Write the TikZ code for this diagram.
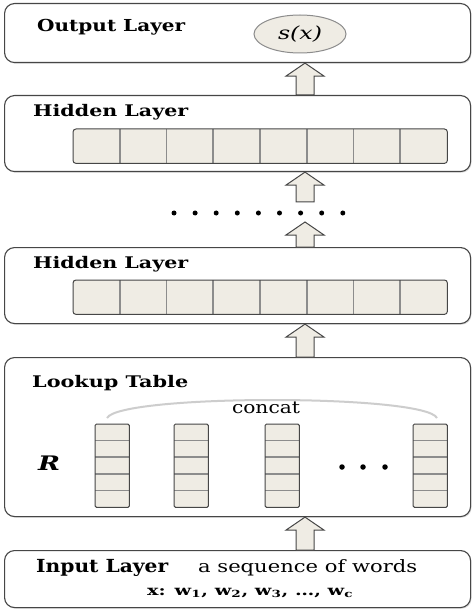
\documentclass[tikz,border=0pt]{standalone}
\usepackage{graphicx}
\usepackage{fontspec}
\setmainfont{DejaVu Serif}
\usetikzlibrary{calc,shapes.geometric,shadows}
\definecolor{cellfill}{RGB}{239,236,228}
\definecolor{edgec}{RGB}{70,70,70}
\definecolor{divc}{RGB}{140,140,140}
\definecolor{arcc}{RGB}{205,205,205}
\newcommand{\fitw}[2]{\resizebox{#1}{\height}{#2}}
\newcommand{\blockup}[2]{%
  \draw[blk] let \p1=(#1), \p2=(#2) in
    (\x1-9pt,\y1) -- (\x1-9pt,\y2-13pt) -- (\x1-19pt,\y2-13pt) -- (\x1,\y2)
    -- (\x1+19pt,\y2-13pt) -- (\x1+9pt,\y2-13pt) -- (\x1+9pt,\y1) -- cycle;}
\begin{document}
\begin{tikzpicture}[x=1pt,y=-1pt,
  layer/.style={draw=edgec, line width=1.1pt, rounded corners=10pt, anchor=north west,
    inner sep=0pt, minimum width=466pt, fill=white,
    drop shadow={opacity=0.25,shadow xshift=1pt,shadow yshift=-1.2pt}},
  ttl/.style={anchor=base west, inner sep=0pt, font=\bfseries},
  plain/.style={inner sep=0pt},
  barbox/.style={anchor=north west, inner sep=0pt, minimum width=374pt, minimum height=34pt, fill=cellfill},
  colbox/.style={anchor=north west, inner sep=0pt, minimum width=34pt, minimum height=83pt, fill=cellfill},
  divline/.style={draw=divc, line width=1.6pt},
  outline/.style={draw=edgec, line width=1pt},
  blk/.style={fill=cellfill, draw=edgec, line width=1pt, line join=miter},
  dotc/.style={circle, fill=black, inner sep=0pt, minimum size=5pt}
]
\useasboundingbox (0,0) rectangle (474,612);
\coordinate (ax) at (305,0);

% ---------- layers ----------
\node[layer, minimum height=59pt] (out) at (4,3) {};
\node[layer, minimum height=76pt] (hid1) at (4,95) {};
\node[layer, minimum height=76pt] (hid2) at (4,247) {};
\node[layer, minimum height=159pt] (look) at (4,357) {};
\node[layer, minimum height=57pt] (inp) at (4,550) {};

% ---------- output layer ----------
\node[ttl] (outlbl) at (37,32) {\fontsize{16.5}{19}\selectfont\fitw{148pt}{Output Layer}};
\node[ellipse, draw=divc, line width=1pt, fill=cellfill, minimum width=92pt, minimum height=38pt, inner sep=0pt] (sx) at (300,34)
  {\fontsize{18}{20}\selectfont\fitw{44pt}{\itshape s(x)}};

% ---------- hidden layers ----------
\node[ttl] (h1lbl) at (33,117) {\fontsize{16}{19}\selectfont\fitw{155pt}{Hidden Layer}};
\node[barbox] (bar1) at (73,129) {};
\foreach \i in {1,...,7}
  \draw[divline] ($(bar1.north west)+(\i*46.75,0)$) -- ($(bar1.south west)+(\i*46.75,0)$);
\draw[outline, rounded corners=3pt] (bar1.north west) rectangle (bar1.south east);

\node[ttl] (h2lbl) at (33,268) {\fontsize{16}{19}\selectfont\fitw{155pt}{Hidden Layer}};
\node[barbox] (bar2) at (73,280) {};
\foreach \i in {1,...,7}
  \draw[divline] ($(bar2.north west)+(\i*46.75,0)$) -- ($(bar2.south west)+(\i*46.75,0)$);
\draw[outline, rounded corners=3pt] (bar2.north west) rectangle (bar2.south east);

% ---------- dots between hidden layers ----------
\foreach \i in {0,...,8}
  \node[dotc] (hd\i) at ({174+\i*21.1},213) {};
\coordinate (dlow) at (305,222);
\coordinate (dhigh) at (305,202);

% ---------- lookup table ----------
\node[ttl] (lklbl) at (32,387) {\fontsize{16}{19}\selectfont\fitw{156pt}{Lookup Table}};
\draw[arcc, line width=2pt] (107,418) .. controls (120,394) and (425,394) .. (437,418);
\node[plain, anchor=base] (concat) at (266,413) {\fontsize{17}{20}\selectfont\fitw{68pt}{concat}};
\node[anchor=base, inner sep=0pt] (R) at (49,470)
  {\fontsize{20}{24}\selectfont\fitw{22pt}{\bfseries\itshape R}};
\foreach \n/\xl in {c1/95, c2/174, c3/265, c4/413} {
  \node[colbox] (\n) at (\xl,424) {};
  \foreach \j in {1,...,4}
    \draw[divline] ($(\n.north west)+(0,\j*16.6)$) -- ($(\n.north east)+(0,\j*16.6)$);
  \draw[outline, rounded corners=1.5pt] (\n.north west) rectangle (\n.south east);
}
\foreach \i/\xx in {0/342, 1/363, 2/385}
  \node[dotc, minimum size=5.5pt] (ld\i) at (\xx,467) {};

% ---------- input layer ----------
\node[ttl] (inlbl) at (36,572) {\fontsize{18}{21}\selectfont\fitw{132pt}{Input Layer}};
\node[plain, anchor=base west] (seq) at (198,572) {\fontsize{17}{20}\selectfont\fitw{219pt}{a sequence of words}};
\node[inner sep=0pt, anchor=base west] (xw) at (147,595)
  {\fontsize{14}{16}\selectfont\fitw{206pt}{\bfseries x: w\textsubscript{1}, w\textsubscript{2}, w\textsubscript{3}, \dots, w\textsubscript{c}}};

% ---------- arrows ----------
\blockup{hid1.north -| ax}{out.south -| ax}
\blockup{dhigh}{hid1.south -| ax}
\blockup{hid2.north -| ax}{dlow}
\blockup{look.north -| ax}{hid2.south -| ax}
\blockup{inp.north -| ax}{look.south -| ax}
\end{tikzpicture}
\end{document}
